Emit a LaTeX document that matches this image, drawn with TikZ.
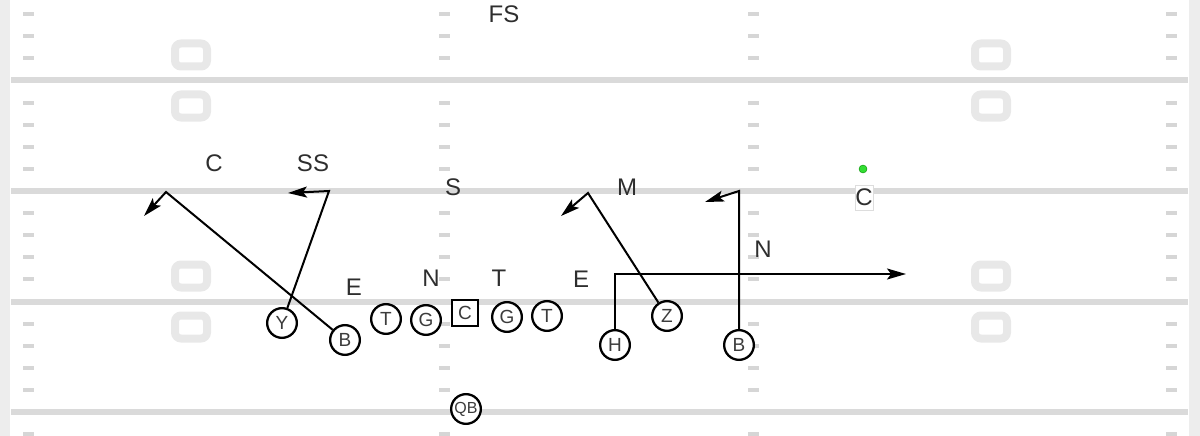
\documentclass[tikz,border=0pt]{standalone}
\usepackage{fontspec}
\setmainfont{Liberation Sans}
\usetikzlibrary{arrows.meta}
\definecolor{yardline}{HTML}{DADADA}
\definecolor{hashc}{HTML}{D6D6D6}
\definecolor{numc}{HTML}{E8E8E8}
\definecolor{sidec}{HTML}{EDEDED}
\definecolor{labc}{HTML}{2E2E2E}
\definecolor{plc}{HTML}{3C3C3C}
\definecolor{dotc}{HTML}{33DD33}
\definecolor{boxc}{HTML}{DDDDDD}
\begin{document}
\begin{tikzpicture}[x=1pt,y=-1pt,
  player/.style={circle,draw=black,fill=white,line width=2.3pt,minimum size=29.7pt,inner sep=0pt,text=plc,font=\fontsize{19}{19}\selectfont},
  center/.style={rectangle,draw=black,fill=white,line width=2.3pt,minimum size=25.7pt,inner sep=0pt,text=plc,font=\fontsize{19}{19}\selectfont},
  deflab/.style={inner sep=0pt,text=labc,font=\fontsize{24}{24}\selectfont},
  route/.style={draw=black,line width=2pt,line join=miter},
  routearrow/.style={route,-{Stealth[length=19pt,width=11pt,inset=4pt]}},
  hashmark/.style={fill=hashc},
  yard/.style={fill=yardline},
  numshape/.style={draw=numc,line width=8pt,rounded corners=6pt}]
\useasboundingbox (0,0) rectangle (1200,436);
% sidelines
\fill[sidec] (0,0) rectangle (10,436);
\fill[sidec] (1189,0) rectangle (1200,436);
% yard lines
\foreach \y in {80.5,191,301.5,412} {
  \fill[yard] (11,\y-3) rectangle (1188,\y+3);
}
% hash marks
\foreach \xx in {28,444.5,753,1171} {
  \foreach \k in {-3,-2,-1,1,2,3,4,6,7,8,9,11,12,13,14,16} {
    \fill[hashmark] (\xx-5.5,80.5+22.1*\k-2) rectangle (\xx+5.5,80.5+22.1*\k+2);
  }
}
% yard numbers (sideways zeros)
\foreach \xx in {191,991} {
  \foreach \y in {80.5,301.5} {
    \draw[numshape] (\xx-16,\y-37) rectangle (\xx+16,\y-14);
    \draw[numshape] (\xx-16,\y+14) rectangle (\xx+16,\y+37);
  }
}
% defensive labels
\node[deflab] (fs) at (504,14) {FS};
\node[deflab] (cl) at (214,163) {C};
\node[deflab] (ss) at (313,163) {SS};
\node[deflab] (s) at (453,187) {S};
\node[deflab] (m) at (627,187) {M};
\node[deflab] (el) at (354,287) {E};
\node[deflab] (nl) at (431,278) {N};
\node[deflab] (tr) at (499,278) {T};
\node[deflab] (er) at (581,279) {E};
\node[deflab] (nr) at (763,249) {N};
\node[circle,fill=dotc,draw=green!55!black,line width=0.4pt,minimum size=8pt,inner sep=0pt] (dot) at (863,169) {};
\node[rectangle,draw=boxc,fill=white,line width=1pt,minimum width=18pt,minimum height=25pt,inner sep=0pt,text=labc,font=\fontsize{24}{24}\selectfont] (cr) at (864,197.5) {C};
% route corners and tips
\coordinate (cB1) at (166,192);
\coordinate (tB1) at (144,216);
\coordinate (cY) at (329,191);
\coordinate (tY) at (288,193);
\coordinate (cZ) at (588,193);
\coordinate (tZ) at (561,216);
\coordinate (cB2) at (739,191);
\coordinate (tB2) at (705,202);
\coordinate (cH) at (615,274);
\coordinate (tH) at (906,274);
% players
\node[player] (y) at (282,323) {Y};
\node[player] (b1) at (345,340) {B};
\node[player] (t1) at (386,319) {T};
\node[player] (g1) at (426,320) {G};
\node[center] (c) at (465,313) {C};
\node[player] (g2) at (507,317) {G};
\node[player] (t2) at (547,316) {T};
\node[player] (h) at (615,345) {H};
\node[player] (z) at (667,316) {Z};
\node[player] (b2) at (739,345) {B};
\node[player,font=\fontsize{16}{16}\selectfont] (qb) at (466,409) {QB};
% routes
\draw[routearrow] (b1) -- (cB1) -- (tB1);
\draw[routearrow] (y) -- (cY) -- (tY);
\draw[routearrow] (z) -- (cZ) -- (tZ);
\draw[routearrow] (b2) -- (cB2) -- (tB2);
\draw[routearrow] (h) -- (cH) -- (tH);
\end{tikzpicture}
\end{document}
